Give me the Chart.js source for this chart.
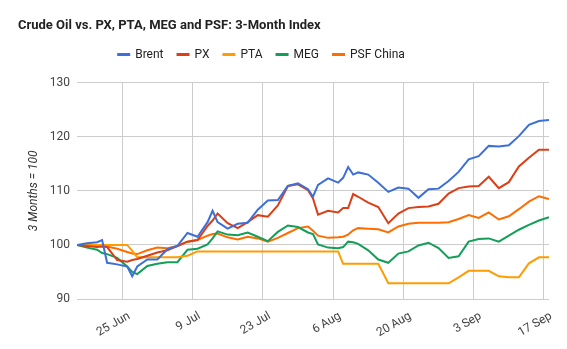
<!DOCTYPE html>
<html lang="en">
<head>
<meta charset="UTF-8">
<title>Crude Oil vs. PX, PTA, MEG and PSF: 3-Month Index</title>
<script src="https://cdn.jsdelivr.net/npm/chart.js"></script>
<style>
    * { margin: 0; padding: 0; box-sizing: border-box; }
    body { background: #fff; font-family: Roboto, sans-serif; }
    .chart-box { position: relative; width: 567px; height: 349px; }
</style>
</head>
<body>
<div class="chart-box"><canvas id="indexChart"></canvas></div>
<script>
    // x = days since 16 Jun
    const days = [0, 2, 4, 5, 6, 8, 10, 11, 12, 14, 16, 18, 20, 22, 24, 26, 27, 28, 30, 32, 34, 36, 38, 40, 42, 44, 46, 47, 48,
        50, 52, 53, 54, 55, 56, 58, 60, 62, 64, 66, 68, 70, 72, 74, 76, 78, 80, 82, 84, 86, 88, 90, 92, 94];

    const brent = [100, 100.3, 100.5, 100.9, 96.7, 96.4, 96.0, 94.2, 96.0, 97.3, 97.3, 99.2, 99.8, 102.2, 101.5, 104.2, 106.3, 104.2,
        103.0, 103.9, 104.1, 106.5, 108.2, 108.3, 110.9, 111.4, 110.3, 108.9, 111.1, 112.3, 111.5, 112.4, 114.4, 113.0, 113.4, 113.0,
        111.5, 109.8, 110.6, 110.4, 108.7, 110.3, 110.4, 111.8, 113.5, 115.8, 116.4, 118.3, 118.2, 118.4, 120.1, 122.2, 122.9, 123.1];
    const px = [100, 99.8, 99.6, 99.7, 99.6, 97.2, 96.9, 97.2, 97.4, 98.0, 98.6, 99.0, 99.8, 100.6, 100.9, 103.5, 104.5, 105.8,
        104.0, 103.1, 104.2, 105.5, 105.2, 107.3, 110.9, 111.2, 110.1, 108.6, 105.6, 106.3, 106.0, 106.8, 106.8, 109.4, 108.9, 107.8,
        107.0, 104.0, 105.8, 106.8, 107.0, 107.1, 107.6, 109.5, 110.5, 110.8, 110.9, 112.6, 110.5, 111.6, 114.5, 116.1, 117.6, 117.6];
    const pta = [100, 100, 100, 100, 100, 100, 100, 98.9, 97.7, 97.7, 97.7, 97.7, 97.7, 98.0, 98.8, 98.8, 98.8, 98.8,
        98.8, 98.8, 98.8, 98.8, 98.8, 98.8, 98.8, 98.8, 98.8, 98.8, 98.8, 98.8, 98.8, 96.5, 96.5, 96.5, 96.5, 96.5,
        96.5, 92.9, 92.9, 92.9, 92.9, 92.9, 92.9, 92.9, 94.0, 95.2, 95.2, 95.2, 94.2, 94.0, 94.0, 96.6, 97.7, 97.7];
    const meg = [100, 99.5, 99.1, 98.5, 98.3, 97.6, 96.0, 95.0, 94.6, 96.1, 96.5, 96.8, 96.8, 99.1, 99.3, 100.1, 101.2, 102.5,
        101.9, 101.8, 102.3, 101.5, 100.7, 102.4, 103.6, 103.3, 102.3, 102.0, 100.1, 99.5, 99.4, 99.6, 100.6, 100.5, 100.2, 99.0,
        97.3, 96.7, 98.4, 98.8, 99.9, 100.4, 99.4, 97.6, 97.9, 100.6, 101.1, 101.2, 100.6, 101.7, 102.8, 103.7, 104.5, 105.1];
    const psf = [100, 99.9, 99.8, 99.8, 99.7, 99.3, 98.7, 98.4, 98.3, 99.0, 99.5, 99.4, 99.8, 100.6, 100.9, 101.7, 102.0, 102.1,
        101.4, 101.0, 101.5, 101.2, 100.6, 101.3, 102.2, 103.1, 103.4, 102.6, 101.7, 101.3, 101.4, 101.5, 101.9, 102.7, 103.1, 103.0,
        102.9, 102.3, 103.4, 103.9, 104.1, 104.1, 104.1, 104.2, 104.8, 105.5, 105.0, 106.0, 104.7, 105.3, 106.6, 108.0, 109.0, 108.5];

    const seriesNames = ['Brent', 'PX', 'PTA', 'MEG', 'PSF China'];
    const seriesValues = [brent, px, pta, meg, psf];
    const seriesColors = ['#3d6fd9', '#db3f18', '#ff9c00', '#149e58', '#ff6d00'];

    const tickDays = [9, 23, 37, 51, 65, 79, 93];
    const tickLabels = ['25 Jun', '9 Jul', '23 Jul', '6 Aug', '20 Aug', '3 Sep', '17 Sep'];
    const yTicks = [90, 100, 110, 120, 130];

    Chart.defaults.font.family = 'Roboto, sans-serif';
    Chart.defaults.font.size = 12;

    const datasets = seriesNames.map((name, i) => ({
        label: name,
        data: seriesValues[i].map((v, j) => ({ x: days[j], y: v })),
        borderColor: seriesColors[i],
        backgroundColor: seriesColors[i],
        borderWidth: 2,
        pointRadius: 0,
        tension: 0
    }));

    // extra room under the legend and shift it left like the original
    const legendTweak = {
        id: 'legendTweak',
        beforeLayout(chart) {
            const lg = chart.legend;
            if (lg && !lg._tweaked) {
                const fit = lg.fit.bind(lg);
                lg.fit = function () { fit(); this.height = 48; };
                lg._tweaked = true;
            }
        },
        afterUpdate(chart) {
            chart.legend.left -= 22;
            chart.legend.right -= 22;
        }
    };

    new Chart(document.getElementById('indexChart'), {
        type: 'line',
        data: { datasets: datasets },
        plugins: [legendTweak],
        options: {
            responsive: true,
            maintainAspectRatio: false,
            animation: false,
            layout: { padding: { left: 18, right: 18, top: 0, bottom: 0 } },
            plugins: {
                title: {
                    display: true,
                    text: 'Crude Oil vs. PX, PTA, MEG and PSF: 3-Month Index',
                    align: 'start',
                    color: '#222',
                    font: { size: 13, weight: 'bold' },
                    padding: { top: 18, bottom: 1 }
                },
                legend: {
                    position: 'top',
                    labels: {
                        color: '#222',
                        boxWidth: 11,
                        boxHeight: 1,
                        padding: 14
                    }
                },
                tooltip: { enabled: false }
            },
            scales: {
                x: {
                    type: 'linear',
                    min: days[0],
                    max: days[days.length - 1],
                    afterBuildTicks(scale) {
                        scale.ticks = tickDays.map(v => ({ value: v }));
                    },
                    afterFit(scale) { scale.height = 50; },
                    ticks: {
                        color: '#444',
                        minRotation: 30,
                        maxRotation: 30,
                        padding: 10,
                        labelOffset: 7,
                        callback: (v) => tickLabels[tickDays.indexOf(v)]
                    },
                    grid: { color: '#ccc', drawTicks: false },
                    border: { display: false }
                },
                y: {
                    min: 90,
                    max: 130,
                    afterBuildTicks(scale) {
                        scale.ticks = yTicks.map(v => ({ value: v }));
                    },
                    afterFit(scale) { scale.width = 59; },
                    ticks: { color: '#444', padding: 7 },
                    grid: { color: '#ccc', drawTicks: false },
                    border: { display: false },
                    title: {
                        display: true,
                        text: '3 Months = 100',
                        color: '#333',
                        font: { style: 'italic', size: 12 },
                        padding: { top: 9, bottom: 4 }
                    }
                }
            }
        }
    });
</script>
</body>
</html>
